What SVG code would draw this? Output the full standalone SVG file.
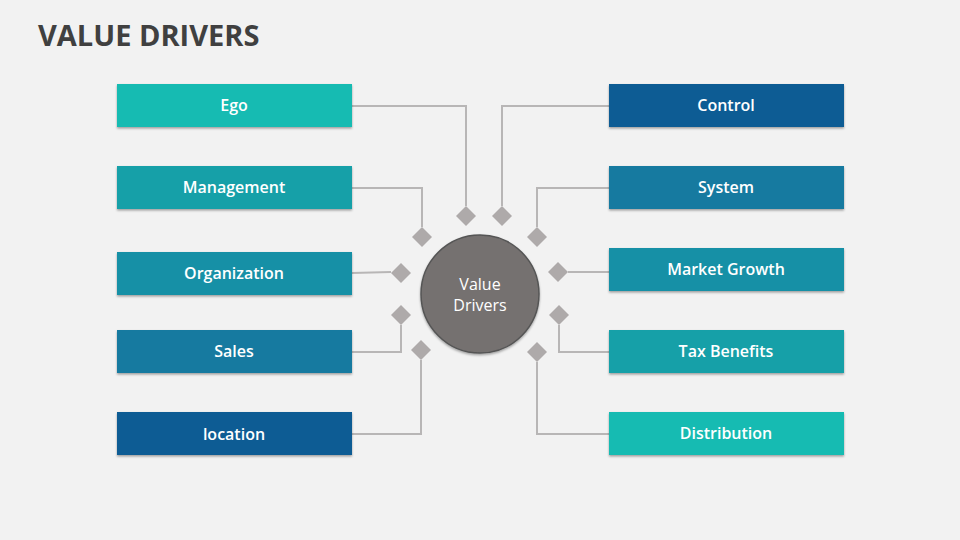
<svg xmlns="http://www.w3.org/2000/svg" width="960" height="540" viewBox="0 0 960 540">
<defs>
<filter id="sh" x="-10%" y="-10%" width="120%" height="130%"><feDropShadow dx="0" dy="1.5" stdDeviation="1.2" flood-color="#000" flood-opacity="0.35"/></filter>
<style>
.lbl{font-family:"Open Sans","Noto Sans",sans-serif;font-size:16px;font-weight:600;fill:#fff;text-anchor:middle}
.ln{fill:none;stroke:#b8b6b6;stroke-width:2}
.dm{fill:#aeaaaa}
</style>
</defs>
<rect width="960" height="540" fill="#f2f2f2"/>
<text x="38" y="46" font-family="Open Sans,Noto Sans,sans-serif" font-size="29" font-weight="bold" fill="#404040">VALUE DRIVERS</text>
<g id="connectors">
<polyline class="ln" points="352,106 466,106 466,206"/>
<polyline class="ln" points="609,106 502,106 502,206"/>
<polyline class="ln" points="352,188 422,188 422,227"/>
<polyline class="ln" points="609,188 537,188 537,227"/>
<polyline class="ln" points="352,273 391,272"/>
<polyline class="ln" points="609,272 568,272"/>
<polyline class="ln" points="352,352 401,352 401,325"/>
<polyline class="ln" points="609,352 559,352 559,325"/>
<polyline class="ln" points="352,434 421,434 421,360"/>
<polyline class="ln" points="609,434 537,434 537,362"/>
<g class="dm">
<polygon points="466,206 476,216 466,226 456,216"/>
<polygon points="502,206 512,216 502,226 492,216"/>
<polygon points="422,227 432,237 422,247 412,237"/>
<polygon points="537,227 547,237 537,247 527,237"/>
<polygon points="401,263 411,273 401,283 391,273"/>
<polygon points="558,262 568,272 558,282 548,272"/>
<polygon points="401,305 411,315 401,325 391,315"/>
<polygon points="559,305 569,315 559,325 549,315"/>
<polygon points="421,340 431,350 421,360 411,350"/>
<polygon points="537,342 547,352 537,362 527,352"/>
</g>
</g>
<g id="center"><circle cx="480" cy="294" r="59" fill="#757170" stroke="#555" stroke-width="1.5" filter="url(#sh)"/>
<text class="lbl" x="480" y="290" font-weight="normal" style="font-weight:400">Value</text>
<text class="lbl" x="480" y="311" style="font-weight:400">Drivers</text></g>
<g id="ego"><rect x="117" y="84" width="235" height="43" fill="#14bbb2" filter="url(#sh)"/><text class="lbl" x="234" y="111">Ego</text></g>
<g id="management"><rect x="117" y="166" width="235" height="43" fill="#12a0a8" filter="url(#sh)"/><text class="lbl" x="234" y="193">Management</text></g>
<g id="organization"><rect x="117" y="252" width="235" height="43" fill="#1390a6" filter="url(#sh)"/><text class="lbl" x="234" y="279">Organization</text></g>
<g id="sales"><rect x="117" y="330" width="235" height="43" fill="#127aa0" filter="url(#sh)"/><text class="lbl" x="234" y="357">Sales</text></g>
<g id="location"><rect x="117" y="412" width="235" height="43" fill="#0d5c94" filter="url(#sh)"/><text class="lbl" x="234" y="440">location</text></g>
<g id="control"><rect x="609" y="84" width="235" height="43" fill="#0d5c94" filter="url(#sh)"/><text class="lbl" x="726" y="111">Control</text></g>
<g id="system"><rect x="609" y="166" width="235" height="43" fill="#127aa0" filter="url(#sh)"/><text class="lbl" x="726" y="193">System</text></g>
<g id="market"><rect x="609" y="248" width="235" height="43" fill="#1390a6" filter="url(#sh)"/><text class="lbl" x="726" y="275">Market Growth</text></g>
<g id="tax"><rect x="609" y="330" width="235" height="43" fill="#12a0a8" filter="url(#sh)"/><text class="lbl" x="726" y="357">Tax Benefits</text></g>
<g id="distribution"><rect x="609" y="412" width="235" height="43" fill="#14bbb2" filter="url(#sh)"/><text class="lbl" x="726" y="439">Distribution</text></g>
</svg>
